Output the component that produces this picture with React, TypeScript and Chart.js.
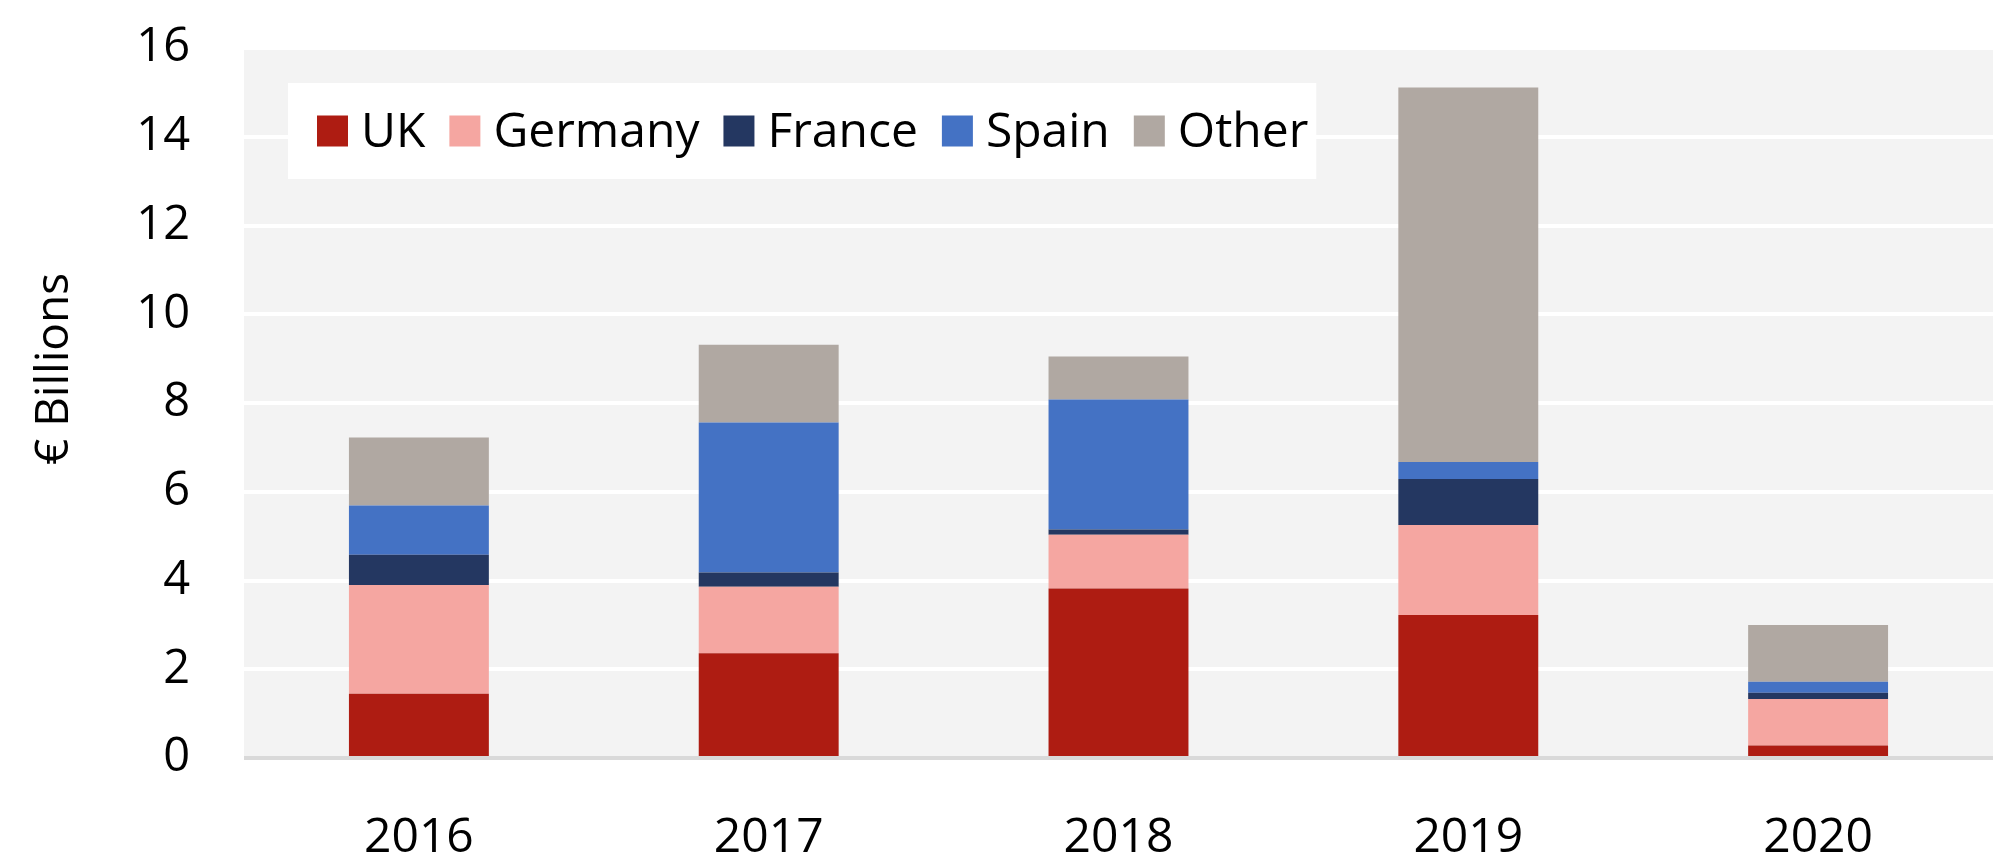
import React, { useEffect, useRef } from 'react';
import { Chart, registerables } from 'chart.js';

Chart.register(...registerables);

// ---- data ----
const categories = ['2016', '2017', '2018', '2019', '2020'];
const ukValues = [1.45, 2.36, 3.82, 3.22, 0.28];
const germanyValues = [2.45, 1.5, 1.21, 2.03, 1.05];
const franceValues = [0.68, 0.32, 0.12, 1.04, 0.14];
const spainValues = [1.11, 3.38, 2.93, 0.38, 0.25];
const otherValues = [1.53, 1.75, 0.97, 8.44, 1.28];
const seriesNames = ['UK', 'Germany', 'France', 'Spain', 'Other'];
const seriesColors = ['#AE1C12', '#F5A6A1', '#243761', '#4472C4', '#B0A8A2'];
const yAxisTitle = '€ Billions';
const yMin = 0;
const yMax = 16;
const yStep = 2;

const FONT_FAMILY = "'Open Sans', 'Noto Sans', sans-serif";

const plotBackground = {
  id: 'plotBackground',
  beforeDraw(chart: any) {
    const { ctx, chartArea: a } = chart;
    ctx.save();
    ctx.fillStyle = '#F3F3F3';
    ctx.fillRect(a.left, a.top, a.right - a.left, a.bottom - a.top);
    ctx.restore();
  },
};

const customLegend = {
  id: 'customLegend',
  afterDraw(chart: any) {
    const { ctx } = chart;
    const datasets = chart.data.datasets;
    ctx.save();
    ctx.font = `48px ${FONT_FAMILY}`;
    const sw = 31;
    const gapText = 13;
    const gapItem = 24;
    const cy = 131;
    let x = 317;
    const widths = datasets.map((d: any) => ctx.measureText(d.label).width);
    let end = x;
    widths.forEach((w: number) => {
      end = x + sw + gapText + w;
      x = end + gapItem;
    });
    ctx.fillStyle = '#FFFFFF';
    ctx.fillRect(288, 83, end + 8 - 288, 96);
    x = 317;
    ctx.textBaseline = 'middle';
    ctx.textAlign = 'left';
    datasets.forEach((d: any, i: number) => {
      ctx.fillStyle = d.backgroundColor;
      ctx.fillRect(x, cy - sw / 2, sw, sw);
      ctx.fillStyle = '#000000';
      ctx.fillText(d.label, x + sw + gapText, cy + 2);
      x = x + sw + gapText + widths[i] + gapItem;
    });
    ctx.restore();
  },
};

const axisTitle = {
  id: 'axisTitle',
  afterDraw(chart: any) {
    const { ctx } = chart;
    ctx.save();
    ctx.font = `46px ${FONT_FAMILY}`;
    ctx.fillStyle = '#000000';
    ctx.translate(55, 369);
    ctx.rotate(-Math.PI / 2);
    ctx.textAlign = 'center';
    ctx.textBaseline = 'middle';
    ctx.fillText(yAxisTitle, 0, 0);
    ctx.restore();
  },
};

export default function App() {
  const canvasRef = useRef<HTMLCanvasElement | null>(null);

  useEffect(() => {
    document.body.style.margin = '0';
    document.body.style.overflow = 'hidden';
    const canvas = canvasRef.current;
    if (!canvas) return;
    const values = [ukValues, germanyValues, franceValues, spainValues, otherValues];
    const chart = new Chart(canvas, {
      type: 'bar',
      data: {
        labels: categories,
        datasets: values.map((v, i) => ({
          label: seriesNames[i],
          data: v,
          backgroundColor: seriesColors[i],
          borderWidth: 0,
          barPercentage: 0.4,
          categoryPercentage: 1,
        })),
      },
      options: {
        animation: false,
        responsive: false,
        devicePixelRatio: 1,
        layout: { padding: { top: 48, right: 7, left: 0, bottom: 0 } },
        plugins: {
          legend: { display: false },
          tooltip: { enabled: false },
        },
        scales: {
          x: {
            stacked: true,
            grid: { display: false },
            border: { display: false },
            ticks: {
              color: '#000000',
              font: { family: FONT_FAMILY, size: 48 },
              padding: 44,
              maxRotation: 0,
            },
            afterFit(scale: any) {
              scale.height = 105;
            },
          },
          y: {
            stacked: true,
            min: yMin,
            max: yMax,
            grid: {
              drawTicks: false,
              lineWidth: 4,
              color: (c: any) => (c.tick && c.tick.value === 0 ? '#D9D9D9' : '#FFFFFF'),
            },
            border: { display: false },
            ticks: {
              stepSize: yStep,
              color: '#000000',
              font: { family: FONT_FAMILY, size: 47 },
              padding: 54,
            },
            afterFit(scale: any) {
              scale.width = 244;
              scale.paddingTop = 0;
              scale.paddingBottom = 0;
            },
          },
        },
      },
      plugins: [plotBackground, customLegend, axisTitle],
    });
    return () => chart.destroy();
  }, []);

  return (
    <div style={{ position: 'absolute', left: 0, top: 0, width: 2000, height: 863, background: '#FFFFFF' }}>
      <canvas ref={canvasRef} width={2000} height={863} style={{ display: 'block' }} />
    </div>
  );
}
